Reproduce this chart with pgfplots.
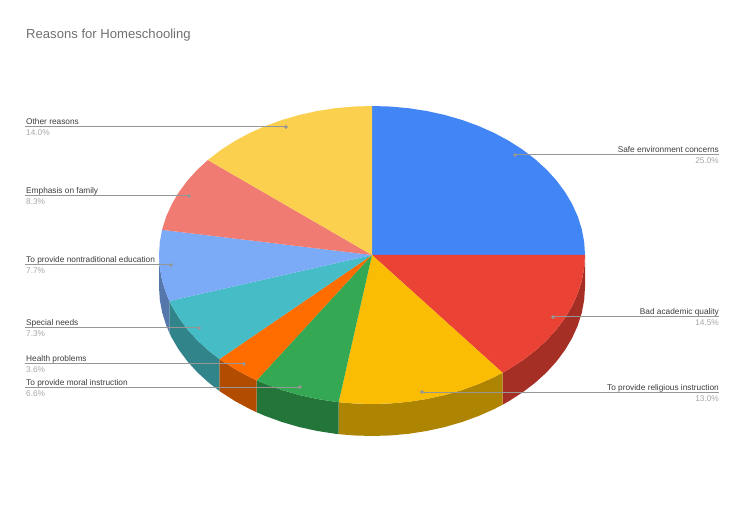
\documentclass[border=0pt]{standalone}
\usepackage{pgfplots}
\usepackage{pgfplotstable}
\usepackage{fontspec}
\setmainfont{Liberation Sans}
\pgfplotsset{compat=1.18}
\usepgfplotslibrary{fillbetween}

% slice colours and their darker rim
\definecolor{cSafe}{HTML}{4285F4}
\definecolor{cBad}{HTML}{EA4335}
\definecolor{cRel}{HTML}{FBBC04}
\definecolor{cMoral}{HTML}{34A853}
\definecolor{cHealth}{HTML}{FF6D01}
\definecolor{cSpecial}{HTML}{46BDC6}
\definecolor{cNontrad}{HTML}{7BAAF7}
\definecolor{cFamily}{HTML}{F07B72}
\definecolor{cOther}{HTML}{FCD04F}
\definecolor{dBad}{HTML}{A52F25}
\definecolor{dRel}{HTML}{AE8403}
\definecolor{dMoral}{HTML}{24753A}
\definecolor{dHealth}{HTML}{B24C00}
\definecolor{dSpecial}{HTML}{31848A}
\definecolor{dNontrad}{HTML}{5677AC}
\definecolor{leader}{HTML}{969696}
\definecolor{labeltext}{HTML}{3C3C3C}
\definecolor{pcttext}{HTML}{A6A6A6}
\definecolor{titletext}{HTML}{707070}

% rim points of each slice: x = sin, y = cos, clockwise from the top
\pgfplotstableread{
x y
0 1
0.0872 0.9962
0.1736 0.9848
0.2588 0.9659
0.3420 0.9397
0.4226 0.9063
0.5 0.8660
0.5736 0.8192
0.6428 0.7660
0.7071 0.7071
0.7660 0.6428
0.8192 0.5736
0.8660 0.5
0.9063 0.4226
0.9397 0.3420
0.9659 0.2588
0.9848 0.1736
0.9962 0.0872
1 0
}\arcSafe
\pgfplotstableread{
x y
1 0
0.9962 -0.0872
0.9848 -0.1736
0.9659 -0.2588
0.9397 -0.3420
0.9063 -0.4226
0.8660 -0.5
0.8192 -0.5736
0.7660 -0.6428
0.7071 -0.7071
0.6428 -0.7660
0.6129 -0.7902
}\arcBad
\pgfplotstableread{
x y
0.6129 -0.7902
0.5736 -0.8192
0.5 -0.8660
0.4226 -0.9063
0.3420 -0.9397
0.2588 -0.9659
0.1736 -0.9848
0.0872 -0.9962
0 -1
-0.0872 -0.9962
-0.1564 -0.9877
}\arcRel
\pgfplotstableread{
x y
-0.1564 -0.9877
-0.1736 -0.9848
-0.2588 -0.9659
-0.3420 -0.9397
-0.4226 -0.9063
-0.5 -0.8660
-0.5411 -0.8410
}\arcMoral
\pgfplotstableread{
x y
-0.5411 -0.8410
-0.5736 -0.8192
-0.6428 -0.7660
-0.7071 -0.7071
-0.7160 -0.6982
}\arcHealth
\pgfplotstableread{
x y
-0.7160 -0.6982
-0.7660 -0.6428
-0.8192 -0.5736
-0.8660 -0.5
-0.9063 -0.4226
-0.9397 -0.3420
-0.9511 -0.3090
}\arcSpecial
\pgfplotstableread{
x y
-0.9511 -0.3090
-0.9659 -0.2588
-0.9848 -0.1736
-0.9962 -0.0872
-1 0
-0.9962 0.0872
-0.9857 0.1688
}\arcNontrad
% only the front part of that slice shows a rim
\pgfplotstableread{
x y
-0.9511 -0.3090
-0.9659 -0.2588
-0.9848 -0.1736
-0.9962 -0.0872
-1 0
}\arcNontradFront
\pgfplotstableread{
x y
-0.9857 0.1688
-0.9848 0.1736
-0.9659 0.2588
-0.9397 0.3420
-0.9063 0.4226
-0.8660 0.5
-0.8192 0.5736
-0.7705 0.6374
}\arcFamily
\pgfplotstableread{
x y
-0.7705 0.6374
-0.7660 0.6428
-0.7071 0.7071
-0.6428 0.7660
-0.5736 0.8192
-0.5 0.8660
-0.4226 0.9063
-0.3420 0.9397
-0.2588 0.9659
-0.1736 0.9848
-0.0872 0.9962
0 1
}\arcOther

\pgfplotsset{
  topface/.style={x filter/.expression={372+213*x}, y filter/.expression={255-149*y}},
  lowface/.style={x filter/.expression={372+213*x}, y filter/.expression={287-149*y}},
}
\newcommand{\slice}[2]{\addplot[draw=none, fill=#2, topface] table[x=x,y=y] {#1} -- (axis cs:372,255) -- cycle;}
\newcommand{\rim}[3]{%
  \addplot[draw=none, topface, name path=up#3] table[x=x,y=y] {#1};
  \addplot[draw=none, lowface, name path=lo#3] table[x=x,y=y] {#1};
  \addplot[#2] fill between[of=up#3 and lo#3];}
% leader line: dot x, y, far end x
\newcommand{\lbl}[3]{%
  \addplot[leader, line width=1pt] coordinates {(#1,#2) (#3,#2)};
  \addplot[only marks, mark=*, mark size=1.6pt, leader] coordinates {(#1,#2)};}

\begin{document}
\begin{tikzpicture}
\begin{axis}[
  at={(0,0)}, anchor=south west,
  scale only axis, width=744pt, height=509pt,
  xmin=0, xmax=744, ymin=0, ymax=509, y dir=reverse,
  hide axis,
  clip=false,
]
  \rim{\arcBad}{dBad}{a}
  \rim{\arcRel}{dRel}{b}
  \rim{\arcMoral}{dMoral}{c}
  \rim{\arcHealth}{dHealth}{d}
  \rim{\arcSpecial}{dSpecial}{e}
  \rim{\arcNontradFront}{dNontrad}{f}

  \slice{\arcSafe}{cSafe}
  \slice{\arcBad}{cBad}
  \slice{\arcRel}{cRel}
  \slice{\arcMoral}{cMoral}
  \slice{\arcHealth}{cHealth}
  \slice{\arcSpecial}{cSpecial}
  \slice{\arcNontrad}{cNontrad}
  \slice{\arcFamily}{cFamily}
  \slice{\arcOther}{cOther}

  \lbl{286}{127}{25}
  \lbl{189}{196}{25}
  \lbl{171}{265}{25}
  \lbl{199}{328}{25}
  \lbl{244}{364}{25}
  \lbl{300}{387}{25}
  \lbl{515}{155}{719}
  \lbl{553}{317}{719}
  \lbl{422}{392}{719}

  \node[anchor=base west, inner sep=0pt, text=titletext, font=\fontsize{13.1}{15}\selectfont] at (axis cs:26,38.7) {Reasons for Homeschooling};

  \begin{scope}[every node/.style={inner sep=0pt, font=\fontsize{8.3}{10}\selectfont}]
    \node[anchor=base west, text=labeltext] at (axis cs:26,125) {Other reasons};
    \node[anchor=base west, text=pcttext] at (axis cs:26,136) {14.0\%};
    \node[anchor=base west, text=labeltext] at (axis cs:26,194) {Emphasis on family};
    \node[anchor=base west, text=pcttext] at (axis cs:26,205) {8.3\%};
    \node[anchor=base west, text=labeltext] at (axis cs:26,263) {To provide nontraditional education};
    \node[anchor=base west, text=pcttext] at (axis cs:26,274) {7.7\%};
    \node[anchor=base west, text=labeltext] at (axis cs:26,326) {Special needs};
    \node[anchor=base west, text=pcttext] at (axis cs:26,337) {7.3\%};
    \node[anchor=base west, text=labeltext] at (axis cs:26,362) {Health problems};
    \node[anchor=base west, text=pcttext] at (axis cs:26,373) {3.6\%};
    \node[anchor=base west, text=labeltext] at (axis cs:26,385) {To provide moral instruction};
    \node[anchor=base west, text=pcttext] at (axis cs:26,396) {6.6\%};
    \node[anchor=base east, text=labeltext] at (axis cs:719,153) {Safe environment concerns};
    \node[anchor=base east, text=pcttext] at (axis cs:719,164) {25.0\%};
    \node[anchor=base east, text=labeltext] at (axis cs:719,315) {Bad academic quality};
    \node[anchor=base east, text=pcttext] at (axis cs:719,326) {14.5\%};
    \node[anchor=base east, text=labeltext] at (axis cs:719,390) {To provide religious instruction};
    \node[anchor=base east, text=pcttext] at (axis cs:719,401) {13.0\%};
  \end{scope}
\end{axis}
\path[use as bounding box] (0,0) rectangle (744pt,509pt);
\end{tikzpicture}
\end{document}
